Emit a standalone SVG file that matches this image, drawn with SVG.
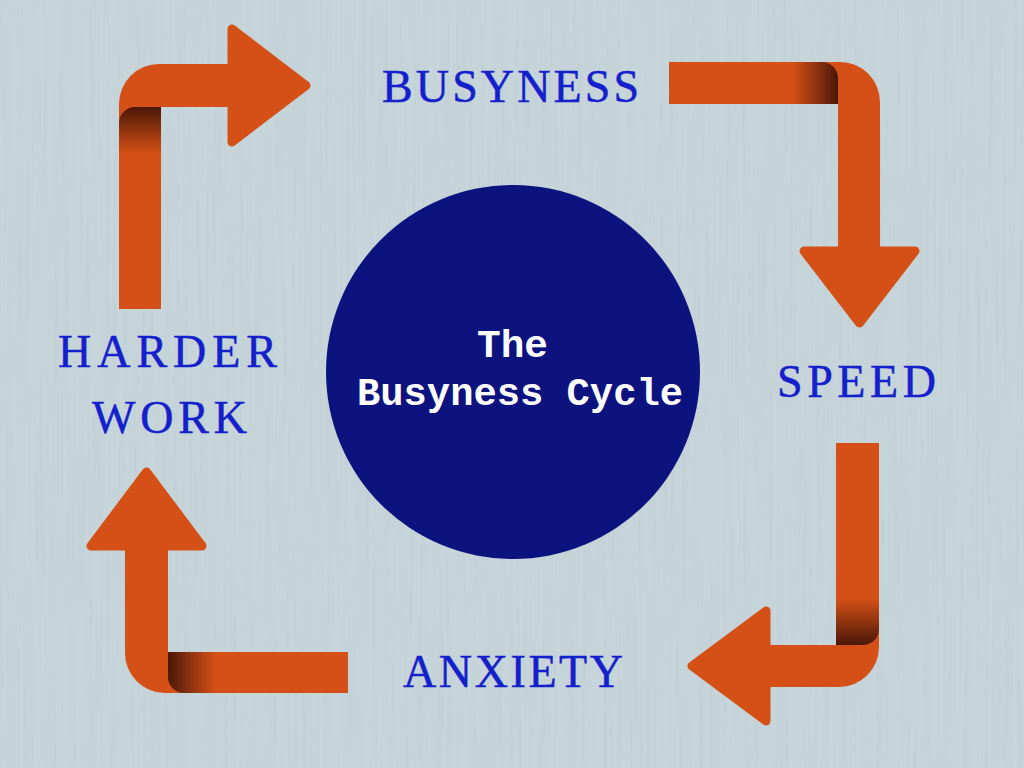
<svg xmlns="http://www.w3.org/2000/svg" width="1024" height="768" viewBox="0 0 1024 768">
  <defs>
    <style>
      .bar { fill: #d45016; }
      .head { fill: #d45016; stroke: #d45016; stroke-width: 9; stroke-linejoin: round; }
      .label { font-family: "Liberation Serif", "Times New Roman", serif; font-size: 46px; fill: #1420cc; stroke: #1420cc; stroke-width: 0.5; }
      .title { font-family: "Liberation Mono", "Courier New", monospace; font-size: 39px; font-weight: bold; fill: #ffffff; }
    </style>
    <linearGradient id="shTop" x1="0" y1="0" x2="0" y2="1">
      <stop offset="0" stop-color="#4a1808"/>
      <stop offset="1" stop-color="#d45016"/>
    </linearGradient>
    <linearGradient id="shBottom" x1="0" y1="1" x2="0" y2="0">
      <stop offset="0" stop-color="#4a1808"/>
      <stop offset="1" stop-color="#d45016"/>
    </linearGradient>
    <linearGradient id="shRight" x1="1" y1="0" x2="0" y2="0">
      <stop offset="0" stop-color="#4a1808"/>
      <stop offset="1" stop-color="#d45016"/>
    </linearGradient>
    <linearGradient id="shLeft" x1="0" y1="0" x2="1" y2="0">
      <stop offset="0" stop-color="#4a1808"/>
      <stop offset="1" stop-color="#d45016"/>
    </linearGradient>
    <filter id="wood" x="0" y="0" width="100%" height="100%">
      <feTurbulence type="fractalNoise" baseFrequency="0.3 0.005" numOctaves="3" seed="7" result="n"/>
      <feColorMatrix in="n" type="matrix" values="0 0 0 0 0.52  0 0 0 0 0.6  0 0 0 0 0.64  0 0 0 1.4 -0.55" result="c"/>
      <feComposite in="c" in2="SourceGraphic" operator="in"/>
    </filter>
  </defs>

  <g id="background">
    <rect x="0" y="0" width="1024" height="768" fill="#c6d5da"/>
    <rect x="0" y="0" width="1024" height="768" fill="#c6d5da" filter="url(#wood)" opacity="0.7"/>
  </g>

  <g id="connectors">
    <g id="arrow-harder-to-busyness">
      <path class="bar" d="M119,309 V104 A40,40 0 0 1 159,64 H232 V107 H161 V309 Z"/>
      <path d="M119,153 V123 A16,16 0 0 1 135,107 H161 V153 Z" fill="url(#shTop)"/>
      <polygon class="head" points="232,29 306,85.5 232,142"/>
    </g>
    <g id="arrow-busyness-to-speed">
      <path class="bar" d="M669,62 H840 A40,40 0 0 1 880,102 V251 H838 V104 H669 Z"/>
      <path d="M793,62 H822 A16,16 0 0 1 838,78 V104 H793 Z" fill="url(#shRight)"/>
      <polygon class="head" points="804,251 915,251 859.5,323"/>
    </g>
    <g id="arrow-speed-to-anxiety">
      <path class="bar" d="M836,443 H879 V647 A40,40 0 0 1 839,687 H766 V645 H836 Z"/>
      <path d="M836,599 H879 V629 A16,16 0 0 1 863,645 H836 Z" fill="url(#shBottom)"/>
      <polygon class="head" points="766,611 766,721 692,666"/>
    </g>
    <g id="arrow-anxiety-to-harder">
      <path class="bar" d="M348,652 V693 H165 A40,40 0 0 1 125,653 V546 H168 V652 Z"/>
      <path d="M168,652 H215 V693 H184 A16,16 0 0 1 168,677 Z" fill="url(#shLeft)"/>
      <polygon class="head" points="91,546 202,546 146.5,472"/>
    </g>
  </g>

  <g id="node-center">
    <circle cx="513" cy="372" r="187" fill="#0c137e"/>
    <text class="title" x="477" y="357" textLength="71" lengthAdjust="spacingAndGlyphs">The</text>
    <text class="title" x="357" y="405" textLength="326" lengthAdjust="spacingAndGlyphs">Busyness Cycle</text>
  </g>

  <g id="node-busyness">
    <text class="label" x="382" y="102" textLength="257" lengthAdjust="spacing">BUSYNESS</text>
  </g>
  <g id="node-speed">
    <text class="label" x="777" y="397" textLength="159" lengthAdjust="spacing">SPEED</text>
  </g>
  <g id="node-anxiety">
    <text class="label" x="403" y="687" textLength="220" lengthAdjust="spacing">ANXIETY</text>
  </g>
  <g id="node-harder-work">
    <text class="label" x="58" y="367" textLength="219" lengthAdjust="spacing">HARDER</text>
    <text class="label" x="92" y="433" textLength="155" lengthAdjust="spacing">WORK</text>
  </g>
</svg>
